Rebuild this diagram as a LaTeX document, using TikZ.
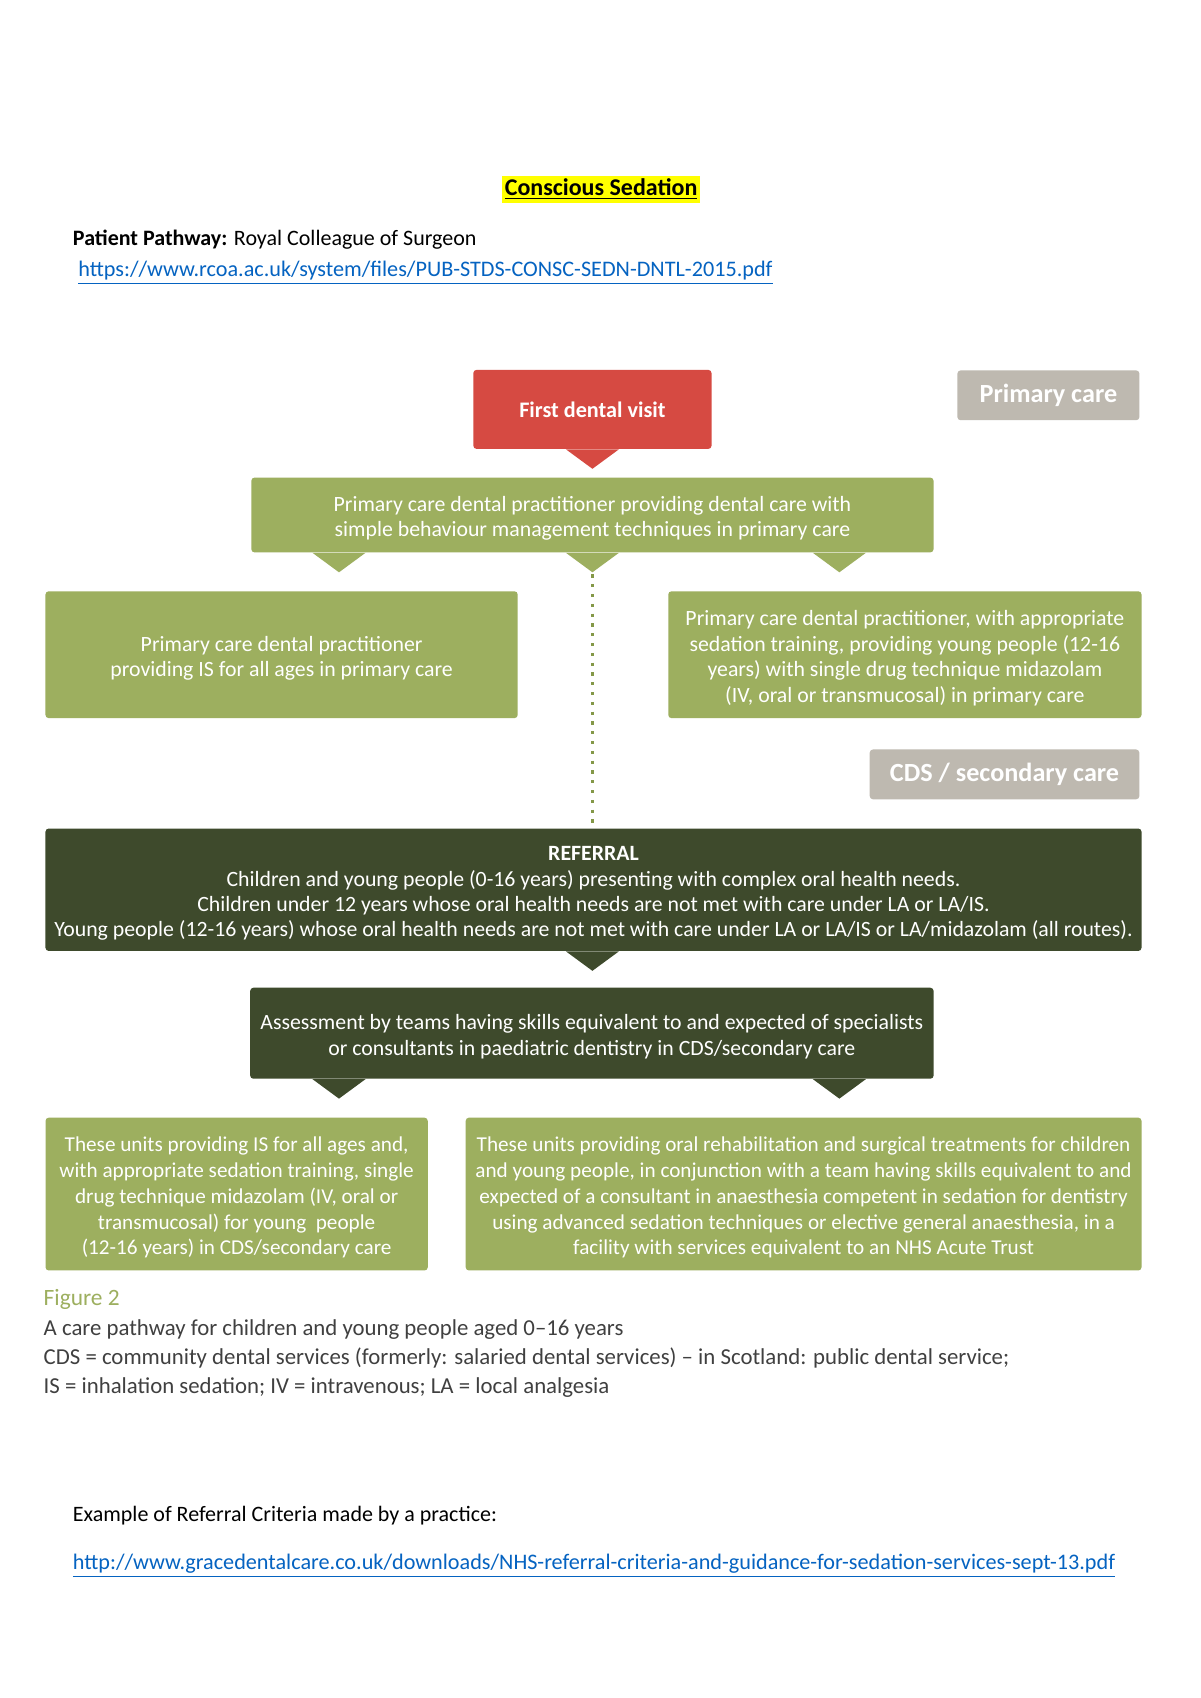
\documentclass[tikz,border=0pt]{standalone}
\usepackage{fontspec}
\setmainfont{Carlito}
\usetikzlibrary{calc}
\definecolor{boxred}{RGB}{214,74,66}
\definecolor{boxgreen}{RGB}{157,175,95}
\definecolor{boxdark}{RGB}{62,74,44}
\definecolor{labelgray}{RGB}{190,185,176}
\definecolor{linkblue}{RGB}{5,99,193}
\definecolor{dotgreen}{RGB}{132,152,72}
\definecolor{captiongray}{RGB}{64,64,64}
\definecolor{hiyellow}{RGB}{255,255,0}
\newcommand\firstline{\rule{0pt}{11pt}}
\tikzset{
  basebox/.style={rounded corners=1.6pt, text=white, align=center, inner sep=2pt,
    font=\fontsize{10.9}{12.7}\selectfont},
  greenbox/.style={basebox, fill=boxgreen},
  darkbox/.style={basebox, fill=boxdark},
  smalltext/.style={font=\fontsize{10.6}{12.9}\selectfont},
  redbox/.style={basebox, fill=boxred, font=\fontsize{11.1}{13}\selectfont\bfseries},
  labelbox/.style={rounded corners=1.6pt, fill=labelgray, text=white, align=center,
    font=\fontsize{13.1}{15}\selectfont\bfseries},
  doctext/.style={anchor=west, inner sep=0pt, font=\fontsize{11}{13}\selectfont},
  captext/.style={anchor=west, inner sep=0pt, text=captiongray, font=\fontsize{11.4}{14}\selectfont},
  linktext/.style={anchor=west, inner sep=0pt, text=linkblue, font=\fontsize{11.1}{13}\selectfont},
  dotline/.style={dotgreen, line width=1.5pt, dash pattern=on 1.6pt off 3.3pt},
}
\newcommand\pointer[3]{% color, x offset (units), node
  \fill[#1] ($(#3.south)+(#2-24.5,0)$) -- ($(#3.south)+(#2,18)$) -- ($(#3.south)+(#2+24.5,0)$) -- cycle;}
\begin{document}
\begin{tikzpicture}[x=0.5415pt,y=-0.5415pt]
\useasboundingbox (0,0) rectangle (1108,1567.8);
\fill[white] (0,0) rectangle (1108,1567.8);

% header
\node[fill=hiyellow, inner sep=1.5pt, font=\fontsize{12}{14}\selectfont\bfseries] (title) at (555,175) {\underline{Conscious Sedation}};
\node[doctext] (pp) at (67,221) {\textbf{Patient Pathway:} Royal Colleague of Surgeon};
\node[linktext] (url1) at (72,252) {\underline{https://www.rcoa.ac.uk/system/files/PUB-STDS-CONSC-SEDN-DNTL-2015.pdf}};

% labels
\node[labelbox, minimum width=91pt, minimum height=24.9pt] (lprim) at (968,365) {Primary care};
\node[labelbox, minimum width=134.8pt, minimum height=24.9pt] (lcds) at (927.5,715) {CDS / secondary care};

% boxes
\node[redbox, minimum width=119.1pt, minimum height=39.5pt] (first) at (547,378) {First dental visit};
\node[greenbox, minimum width=341.1pt, minimum height=37.4pt] (pcdp) at (547,475.5)
  {\firstline Primary care dental practitioner providing dental care with\\simple behaviour management techniques in primary care};
\node[greenbox, minimum width=236.1pt, minimum height=63.4pt] (isbox) at (260,604.5)
  {\firstline Primary care dental practitioner\\providing IS for all ages in primary care};
\node[greenbox, minimum width=236.6pt, minimum height=63.4pt] (midbox) at (835.5,604.5)
  {\firstline Primary care dental practitioner, with appropriate\\sedation training, providing young people (12-16\\years) with single drug technique midazolam\\(IV, oral or transmucosal) in primary care};
\node[darkbox, minimum width=548pt, minimum height=61.2pt] (ref) at (548,821.5)
  {\firstline\textbf{REFERRAL}\\Children and young people (0-16 years) presenting with complex oral health needs.\\Children under 12 years whose oral health needs are not met with care under LA or LA/IS.\\Young people (12-16 years) whose oral health needs are not met with care under LA or LA/IS or LA/midazolam (all routes).};
\node[darkbox, minimum width=341.7pt, minimum height=45.5pt] (assess) at (546.5,954)
  {\firstline Assessment by teams having skills equivalent to and expected of specialists\\or consultants in paediatric dentistry in CDS/secondary care};
\node[greenbox, smalltext, minimum width=191.1pt, minimum height=76.4pt] (units1) at (218.5,1102.5)
  {\firstline These units providing IS for all ages and,\\with appropriate sedation training, single\\drug technique midazolam (IV, oral or\\transmucosal) for young\ \ people\\(12-16 years) in CDS/secondary care};
\node[greenbox, smalltext, minimum width=337.9pt, minimum height=76.4pt] (units2) at (742,1102.5)
  {\firstline These units providing oral rehabilitation and surgical treatments for children\\and young people, in conjunction with a team having skills equivalent to and\\expected of a consultant in anaesthesia competent in sedation for dentistry\\using advanced sedation techniques or elective general anaesthesia, in a\\facility with services equivalent to an NHS Acute Trust};

% pointers
\pointer{boxred}{0}{first}
\pointer{boxgreen}{-234}{pcdp}
\pointer{boxgreen}{0}{pcdp}
\pointer{boxgreen}{228}{pcdp}
\pointer{boxdark}{-1}{ref}
\pointer{boxdark}{-233.5}{assess}
\pointer{boxdark}{228.5}{assess}

% dotted connector
\coordinate (dtop) at ($(pcdp.south)+(0,20)$);
\draw[dotline] (dtop) -- (dtop |- ref.north);

% caption
\node[anchor=west, inner sep=0pt, text=boxgreen, font=\fontsize{11.7}{14}\selectfont] (fig) at (40,1200) {Figure 2};
\node[captext] (cap1) at (40,1228) {A care pathway for children and young people aged 0–16 years};
\node[captext] (cap2) at (40,1254) {CDS = community dental services (formerly: salaried dental services) – in Scotland: public dental service;};
\node[captext] (cap3) at (40,1281) {IS = inhalation sedation; IV = intravenous; LA = local analgesia};

% footer
\node[doctext] (ex) at (67,1399) {Example of Referral Criteria made by a practice:};
\node[linktext] (url2) at (67,1446) {\underline{http://www.gracedentalcare.co.uk/downloads/NHS-referral-criteria-and-guidance-for-sedation-services-sept-13.pdf}};
\end{tikzpicture}
\end{document}
